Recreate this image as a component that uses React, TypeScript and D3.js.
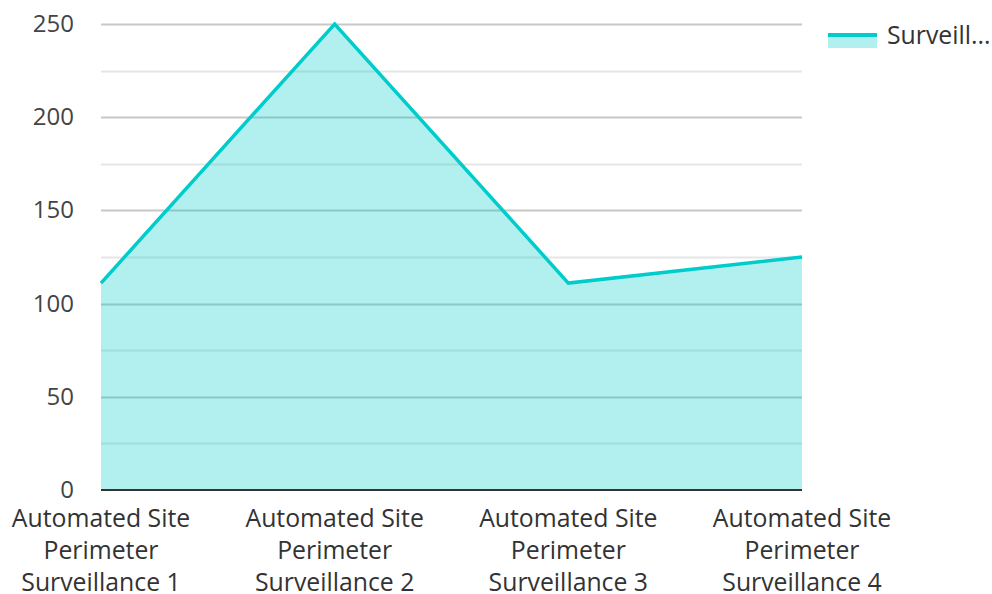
import React, { useEffect, useRef } from "react";
import * as d3 from "d3";

const categories = [
  "Automated Site Perimeter Surveillance 1",
  "Automated Site Perimeter Surveillance 2",
  "Automated Site Perimeter Surveillance 3",
  "Automated Site Perimeter Surveillance 4",
];
const values = [111, 250, 111, 125];
const majorTicks = [0, 50, 100, 150, 200, 250];
const minorTicks = [25, 75, 125, 175, 225];
const seriesName = "Surveill...";

const W = 992;
const H = 594;
const FONT = "'Open Sans', sans-serif";
const COLOR = "#00cccc";

export default function App() {
  const ref = useRef<SVGSVGElement>(null);

  useEffect(() => {
    const svg = d3.select(ref.current);
    svg.selectAll("*").remove();

    const left = 101, right = 802, top = 24, bottom = 490;
    const x = d3.scalePoint().domain(categories).range([left, right]);
    const y = d3.scaleLinear().domain([0, 250]).range([bottom, top]);

    const g = svg.append("g");

    // grid
    g.selectAll(".minor")
      .data(minorTicks)
      .enter()
      .append("line")
      .attr("x1", left)
      .attr("x2", right)
      .attr("y1", (d) => Math.round(y(d)) + 0.5)
      .attr("y2", (d) => Math.round(y(d)) + 0.5)
      .attr("stroke", "#e6e6e6")
      .attr("stroke-width", 2);
    g.selectAll(".major")
      .data(majorTicks.slice(1))
      .enter()
      .append("line")
      .attr("x1", left)
      .attr("x2", right)
      .attr("y1", (d) => Math.round(y(d)) + 0.5)
      .attr("y2", (d) => Math.round(y(d)) + 0.5)
      .attr("stroke", "#c8c8c8")
      .attr("stroke-width", 2);

    // area + line
    const area = d3
      .area<number>()
      .x((d, i) => x(categories[i])!)
      .y0(y(0))
      .y1((d) => y(d));
    g.append("path")
      .datum(values)
      .attr("d", area)
      .attr("fill", COLOR)
      .attr("fill-opacity", 0.3);

    const line = d3
      .line<number>()
      .x((d, i) => x(categories[i])!)
      .y((d) => y(d));
    g.append("path")
      .datum(values)
      .attr("d", line)
      .attr("fill", "none")
      .attr("stroke", COLOR)
      .attr("stroke-width", 3.5)
      .attr("stroke-linejoin", "miter");

    // baseline
    g.append("line")
      .attr("x1", left)
      .attr("x2", right)
      .attr("y1", y(0))
      .attr("y2", y(0))
      .attr("stroke", "#333")
      .attr("stroke-width", 2);

    // y tick labels
    g.selectAll(".ylab")
      .data(majorTicks)
      .enter()
      .append("text")
      .attr("x", 74)
      .attr("y", (d) => y(d) + 8)
      .attr("text-anchor", "end")
      .attr("font-family", FONT)
      .attr("font-size", 24)
      .attr("fill", "#444")
      .text((d) => String(d));

    // x labels
    categories.forEach((c) => {
      const words = c.split(" ");
      const lines = [words.slice(0, 2).join(" "), words[2], words.slice(3).join(" ")];
      const t = g
        .append("text")
        .attr("text-anchor", "middle")
        .attr("font-family", FONT)
        .attr("font-size", 24.8)
        .attr("fill", "#333");
      lines.forEach((l, i) => {
        t.append("tspan")
          .attr("x", x(c)!)
          .attr("y", 527 + i * 32)
          .text(l);
      });
    });

    // legend
    g.append("rect")
      .attr("x", 828)
      .attr("y", 33)
      .attr("width", 49)
      .attr("height", 15)
      .attr("fill", COLOR)
      .attr("fill-opacity", 0.3);
    g.append("rect")
      .attr("x", 828)
      .attr("y", 33)
      .attr("width", 49)
      .attr("height", 4)
      .attr("fill", COLOR);
    g.append("text")
      .attr("x", 887)
      .attr("y", 44)
      .attr("font-family", FONT)
      .attr("font-size", 24.8)
      .attr("fill", "#333")
      .text(seriesName);
  }, []);

  return (
    <svg
      ref={ref}
      width={W}
      height={H}
      style={{ position: "absolute", left: 0, top: 0, background: "#fff" }}
    />
  );
}
